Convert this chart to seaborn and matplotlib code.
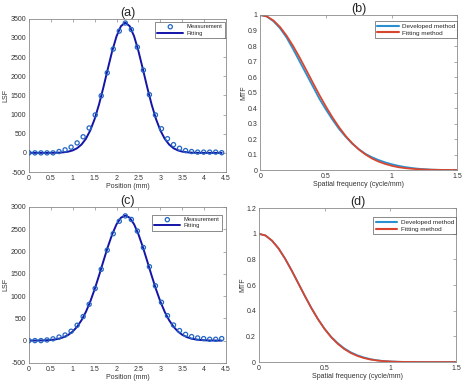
import numpy as np
import pandas as pd
import matplotlib
matplotlib.use("Agg")
import matplotlib.pyplot as plt
from matplotlib.ticker import FormatStrFormatter, MultipleLocator
import seaborn as sns

# measured LSF sample positions (mm)
x_meas = [0, 0.1375, 0.275, 0.4125, 0.55, 0.6875, 0.825, 0.9625, 1.1, 1.2375,
          1.375, 1.5125, 1.65, 1.7875, 1.925, 2.0625, 2.2, 2.3375, 2.475, 2.6125,
          2.75, 2.8875, 3.025, 3.1625, 3.3, 3.4375, 3.575, 3.7125, 3.85, 3.9875,
          4.125, 4.2625, 4.4]
lsf_meas_a = [0, 0, 0, 0, 0, 35, 80, 150, 260, 420, 650, 990, 1490, 2090, 2710,
              3180, 3390, 3220, 2760, 2160, 1520, 990, 630, 370, 215, 120, 60,
              35, 20, 20, 20, 20, 5]
lsf_meas_c = [0, 0, 0, 15, 40, 80, 125, 210, 345, 540, 815, 1170, 1600, 2030,
              2400, 2680, 2800, 2720, 2460, 2090, 1660, 1230, 860, 560, 350, 225,
              140, 90, 60, 45, 30, 30, 45]

# fitted LSF curve positions (mm)
x_fit = [0, 0.1, 0.2, 0.3, 0.4, 0.5, 0.6, 0.7, 0.8, 0.9, 1.0, 1.1, 1.2, 1.3,
         1.4, 1.5, 1.6, 1.7, 1.8, 1.9, 2.0, 2.1, 2.2, 2.3, 2.4, 2.5, 2.6, 2.7,
         2.8, 2.9, 3.0, 3.1, 3.2, 3.3, 3.4, 3.5, 3.6, 3.7, 3.8, 3.9, 4.0, 4.1,
         4.2, 4.3, 4.4]
lsf_fit_a = [0, 0, 0, 0, 0, 1, 3, 7, 16, 33, 65, 122, 218, 367, 586, 885, 1265,
             1711, 2191, 2656, 3046, 3308, 3400, 3308, 3046, 2656, 2191, 1711,
             1265, 885, 586, 367, 218, 122, 65, 33, 16, 7, 3, 1, 0, 0, 0, 0, 0]
lsf_fit_c = [0, 1, 2, 4, 8, 15, 27, 47, 80, 130, 205, 312, 457, 644, 877, 1153,
             1461, 1784, 2101, 2386, 2613, 2759, 2810, 2759, 2613, 2386, 2101,
             1784, 1461, 1153, 877, 644, 457, 312, 205, 130, 80, 47, 27, 15, 8,
             4, 2, 1, 0]

# MTF curves
freq = [0, 0.05, 0.1, 0.15, 0.2, 0.25, 0.3, 0.35, 0.4, 0.45, 0.5, 0.55, 0.6,
        0.65, 0.7, 0.75, 0.8, 0.85, 0.9, 0.95, 1.0, 1.05, 1.1, 1.15, 1.2, 1.25,
        1.3, 1.35, 1.4, 1.45, 1.5]
mtf_dev_b = [1, 0.99, 0.96, 0.915, 0.855, 0.78, 0.70, 0.62, 0.54, 0.46, 0.39,
             0.325, 0.265, 0.215, 0.17, 0.135, 0.105, 0.083, 0.065, 0.05, 0.038,
             0.028, 0.02, 0.014, 0.009, 0.006, 0.003, 0.002, 0.001, 0, 0]
mtf_fit_b = [1, 0.991, 0.965, 0.923, 0.867, 0.800, 0.725, 0.645, 0.564, 0.484,
             0.409, 0.339, 0.276, 0.220, 0.173, 0.133, 0.101, 0.075, 0.055,
             0.040, 0.028, 0.019, 0.013, 0.0088, 0.0058, 0.0037, 0.0024, 0.0015,
             0.0009, 0.0005, 0.0003]
mtf_dev_d = [1, 0.987, 0.947, 0.886, 0.806, 0.714, 0.615, 0.516, 0.421, 0.335,
             0.26, 0.197, 0.148, 0.107, 0.076, 0.053, 0.036, 0.023, 0.014,
             0.008, 0.005, 0.003, 0.0015, 0.0008, 0.0004, 0, 0, 0, 0, 0, 0]
mtf_fit_d = [1, 0.987, 0.947, 0.886, 0.806, 0.714, 0.615, 0.516, 0.421, 0.335,
             0.259, 0.195, 0.143, 0.102, 0.071, 0.048, 0.0316, 0.020, 0.0126,
             0.0077, 0.0045, 0.0026, 0.0014, 0.0008, 0.0004, 0, 0, 0, 0, 0, 0]

sns.set_theme(style="white")
plt.rcParams["font.family"] = ["Liberation Sans", "DejaVu Sans"]

MARK_C = "#2366c4"
LINE_C = "#1414a6"
DEV_C = "#2a90d2"
FIT_C = "#d8452e"

fig = plt.figure(figsize=(4.74, 3.84), dpi=100)
ax_a = fig.add_axes([0.061, 0.552, 0.416, 0.399])
ax_b = fig.add_axes([0.549, 0.557, 0.416, 0.404])
ax_c = fig.add_axes([0.061, 0.055, 0.416, 0.406])
ax_d = fig.add_axes([0.546, 0.057, 0.416, 0.401])


def style_axes(ax):
    for s in ax.spines.values():
        s.set_color("#8a8a8a")
        s.set_linewidth(0.6)
    ax.tick_params(direction="in", length=2, width=0.5, colors="#8a8a8a",
                   labelcolor="#333333", labelsize=5, top=True, right=True,
                   pad=2)
    ax.xaxis.set_major_formatter(FormatStrFormatter("%g"))
    ax.yaxis.set_major_formatter(FormatStrFormatter("%g"))


def frame_legend(leg):
    leg.get_frame().set_edgecolor("#333333")
    leg.get_frame().set_linewidth(0.5)


def lsf_panel(ax, meas, fit, ymax, label, anchor):
    dm = pd.DataFrame({"x": x_meas, "y": meas})
    dfit = pd.DataFrame({"x": x_fit, "y": fit})
    sns.scatterplot(data=dm, x="x", y="y", ax=ax, marker="o", s=9,
                    facecolors="none", edgecolor=MARK_C, linewidth=0.9,
                    label="Measurement", zorder=3)
    sns.lineplot(data=dfit, x="x", y="y", ax=ax, color=LINE_C, lw=1.4,
                 label="Fitting", zorder=2)
    ax.set_xlim(0, 4.5)
    ax.set_ylim(-500, ymax)
    ax.xaxis.set_major_locator(MultipleLocator(0.5))
    ax.yaxis.set_major_locator(MultipleLocator(500))
    ax.set_xlabel("Position (mm)", fontsize=5, color="#333333", labelpad=1)
    ax.set_ylabel("LSF", fontsize=5, color="#333333", labelpad=0.5)
    ax.set_title(label, fontsize=9, pad=2)
    style_axes(ax)
    leg = ax.legend(loc="upper right", bbox_to_anchor=anchor, fontsize=4.2,
                    frameon=True, fancybox=False, borderpad=0.4,
                    handlelength=4.5, handletextpad=0.6, labelspacing=0.2,
                    borderaxespad=0)
    frame_legend(leg)


def mtf_panel(ax, dev, fit, ymax, ystep, label, anchor):
    d = pd.DataFrame({"f": freq * 2, "mtf": dev + fit,
                      "method": ["Developed method"] * len(freq)
                      + ["Fitting method"] * len(freq)})
    sns.lineplot(data=d, x="f", y="mtf", hue="method", ax=ax,
                 palette={"Developed method": DEV_C, "Fitting method": FIT_C},
                 lw=1.3)
    ax.set_xlim(0, 1.5)
    ax.set_ylim(0, ymax)
    ax.xaxis.set_major_locator(MultipleLocator(0.5))
    ax.yaxis.set_major_locator(MultipleLocator(ystep))
    ax.set_xlabel("Spatial frequency (cycle/mm)", fontsize=5,
                  color="#333333", labelpad=1)
    ax.set_ylabel("MTF", fontsize=5, color="#333333", labelpad=0)
    ax.set_title(label, fontsize=9, pad=2)
    style_axes(ax)
    leg = ax.legend(loc="upper right", bbox_to_anchor=anchor, fontsize=4.6,
                    frameon=True, fancybox=False, borderpad=0.35,
                    handlelength=3.4, handletextpad=0.5, labelspacing=0.2,
                    borderaxespad=0)
    frame_legend(leg)
    for ln in leg.get_lines():
        ln.set_linewidth(1.5)


lsf_panel(ax_a, lsf_meas_a, lsf_fit_a, 3500, "(a)", (0.995, 0.98))
lsf_panel(ax_c, lsf_meas_c, lsf_fit_c, 3000, "(c)", (0.98, 0.95))
mtf_panel(ax_b, mtf_dev_b, mtf_fit_b, 1.0, 0.1, "(b)", (1.0, 0.96))
mtf_panel(ax_d, mtf_dev_d, mtf_fit_d, 1.2, 0.2, "(d)", (1.0, 0.94))

fig.savefig("out.png", dpi=100)
